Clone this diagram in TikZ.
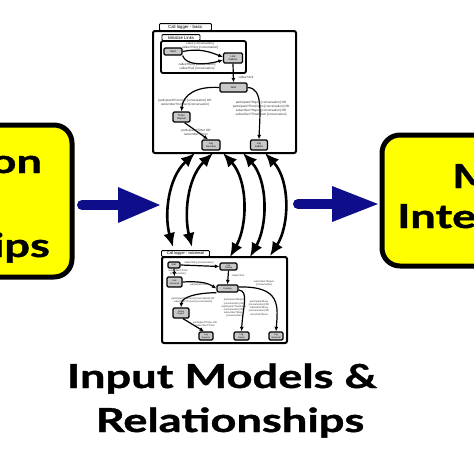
\documentclass[tikz,border=0pt]{standalone}
\usepackage{fontspec}
\setmainfont{Liberation Sans}
\newfontfamily\bigfont[FakeStretch=1.37, BoldFeatures={FakeBold=1.3}]{Lato}
\usepackage{xcolor}
\usetikzlibrary{arrows.meta}

\definecolor{boxyellow}{RGB}{255,255,0}
\definecolor{arrowblue}{RGB}{14,14,138}
\definecolor{stategray}{RGB}{200,200,200}

\tikzset{
    bigbox/.style={draw=black, line width=5pt, fill=boxyellow, rounded corners=18pt},
    bigtext/.style={font=\bigfont\bfseries\fontsize{33}{40}\selectfont, inner sep=0pt},
    flowline/.style={draw=arrowblue, line width=10pt, line cap=round},
    linkarrow/.style={line width=2.6pt, {Latex[length=14pt,width=12pt]}-{Latex[length=14pt,width=12pt]}},
    frame/.style={draw, line width=2pt, rounded corners=2pt, fill=white},
    tab/.style={draw, line width=0.9pt, rounded corners=1pt, fill=white, inner sep=0.5pt, anchor=south west},
    state/.style={draw, line width=1.3pt, fill=stategray, rounded corners=1.2pt, inner sep=0pt, align=center, font=\fontsize{2.6}{2.9}\selectfont},
    move/.style={line width=1.2pt, -{Latex[length=4.5pt,width=4pt]}},
    note/.style={align=center, inner sep=0pt, text=black!80, font=\fontsize{3.1}{4}\selectfont},
    vnote/.style={align=center, inner sep=0pt, text=black!80, font=\fontsize{2.5}{3.1}\selectfont}
}

\begin{document}
\begin{tikzpicture}[x=1pt, y=-1pt]
    \useasboundingbox (0,0) rectangle (474,474);
    \fill[white] (0,0) rectangle (474,474);
    \clip (0,0) rectangle (474,474);

    % yellow boxes on both sides
    \draw[bigbox] (-220,125) rectangle (72,277);
    \node[bigtext, anchor=base east] (leftTop) at (42,173) {Composition};
    \node[bigtext, anchor=base east] (leftBot) at (50,257) {Relationships};

    \draw[bigbox] (382,135) rectangle (720,266);
    \node[bigtext, anchor=base west] (rightTop) at (452,188) {Model};
    \node[bigtext, anchor=base west] (rightBot) at (397,228) {Integration};

    % blue arrows
    \coordinate (lStart) at (82,205);
    \coordinate (lBase) at (122,205);
    \coordinate (lTip) at (160,205);
    \draw[flowline] (lStart) -- (lBase);
    \fill[arrowblue] (118,187) -- (lTip) -- (118,223) -- cycle;

    \coordinate (rStart) at (298,204);
    \coordinate (rBase) at (336,204);
    \coordinate (rTip) at (378,204);
    \draw[flowline] (rStart) -- (rBase);
    \fill[arrowblue] (332,186) -- (rTip) -- (332,222) -- cycle;

    % call logger - basic
    \draw[frame] (153,31) rectangle (296,153);
    \node[tab, minimum width=52pt, minimum height=7pt, font=\fontsize{4.3}{5}\selectfont] (basicTab) at (159,31) {Call logger - basic};
    \draw[frame, line width=1.8pt] (161,41) rectangle (246,73);
    \node[tab, minimum width=38pt, minimum height=6pt, font=\fontsize{4.2}{5}\selectfont] (initTab) at (161.5,41) {Initialize Links};

    \node[state, minimum width=18pt, minimum height=7pt] (bStart) at (173,51.5) {Start};
    \node[state, minimum width=19pt, minimum height=10pt] (bLink) at (233,58) {Link\\Callees};
    \node[state, minimum width=27pt, minimum height=9pt] (bWait) at (233.5,87.5) {Wait};
    \node[state, minimum width=17pt, minimum height=10pt] (bTimer) at (181.5,117) {Timer\\Repeat};
    \node[state, minimum width=18pt, minimum height=10pt] (bSucc) at (211,145) {Log\\Success};
    \node[state, minimum width=17pt, minimum height=10pt] (bFail) at (259,145) {Log\\Failure};

    \draw[move] (bStart.east) .. controls (200,48) and (210,52) .. ([yshift=1pt]bLink.west);
    \draw[move] (bStart.south east) .. controls (186,66) and (206,65) .. ([yshift=-2pt]bLink.west);
    \draw[move] (bLink.south) -- (bWait.north);
    \draw[move] (bWait.west) .. controls (196,86) and (183,95) .. (bTimer.north);
    \draw[move] (bWait.east) .. controls (263,88) and (260,112) .. (bFail.north);
    \draw[move] ([xshift=3pt]bTimer.south) -- ([xshift=-3pt]bSucc.north);

    \node[note] (nRing) at (200,46) {value {[conversation]}\\callee?Ring {[conversation]}};
    \node[note] (nBusy) at (197,66.5) {callee?Busy {[conversation]}\\callee?Fail {[conversation]}};
    \node[note] (nAck) at (246,77) {callee?Ack};
    \node[note] (nConn) at (185,102.5) {participant?Connect {[conversation]} OR\\subscriber?Connect {[conversation]}};
    \node[note] (nRej) at (261,108.5) {participant?Reject {[conversation]} OR\\participant?TimeDown {[conversation]} OR\\subscriber?Reject {[conversation]} OR\\subscriber?TimeDown {[conversation]}};
    \node[note] (nTimer) at (196,132) {participant?Timer OR\\subscriber?Timer};

    % call logger - voicemail
    \draw[frame] (162,257) rectangle (287,343);
    \node[tab, minimum width=48pt, minimum height=6pt, font=\fontsize{3.8}{4.5}\selectfont] (voiceTab) at (161,257) {Call logger - voicemail};

    \node[state, minimum width=12pt, minimum height=6pt, font=\fontsize{2.2}{2.5}\selectfont] (vStart) at (174,265) {Start};
    \node[state, minimum width=17pt, minimum height=7pt, font=\fontsize{2.2}{2.5}\selectfont] (vLink) at (228.5,266.5) {Link\\Callees};
    \node[state, minimum width=15pt, minimum height=10pt, font=\fontsize{2.2}{2.5}\selectfont] (vVoice) at (174.5,282) {Link\\Voicemail};
    \node[state, minimum width=21pt, minimum height=7pt, font=\fontsize{2.2}{2.5}\selectfont] (vPend) at (227.5,288.5) {Pending};
    \node[state, minimum width=16pt, minimum height=10pt, font=\fontsize{2.2}{2.5}\selectfont] (vEmail) at (181,313) {Email\\Report};
    \node[state, minimum width=14pt, minimum height=8pt, font=\fontsize{2.2}{2.5}\selectfont] (vSucc) at (206,336) {Log\\Success};
    \node[state, minimum width=15pt, minimum height=8pt, font=\fontsize{2.2}{2.5}\selectfont] (vFail) at (241.5,336) {Log\\Failure};
    \node[state, minimum width=14pt, minimum height=8pt, font=\fontsize{2.2}{2.5}\selectfont] (vMail) at (276,336) {Log\\Voicemail};

    \draw[move] (vStart.east) -- (vLink.west);
    \draw[move] (vStart.south) -- (vVoice.north);
    \draw[move] (vLink.south) -- (vPend.north);
    \draw[move] (vVoice.east) .. controls (200,281) and (208,283) .. (vPend.west);
    \draw[move] (vPend.south west) .. controls (196,293) and (182,297) .. (vEmail.north);
    \draw[move] ([yshift=-1.5pt]vPend.east) .. controls (249,291) and (243,306) .. (vFail.north);
    \draw[move] ([yshift=1.5pt]vPend.east) .. controls (281,286) and (278,306) .. (vMail.north);
    \draw[move] ([xshift=2pt]vEmail.south) -- ([xshift=-2pt]vSucc.north);

    \node[vnote] (mRing) at (199,262.5) {callee?Ring {[conversation]}};
    \node[vnote] (mTimer) at (178,272.5) {subscriber?Timer\\{[conversation]}};
    \node[vnote] (mAck) at (238,276) {callee?Ack};
    \node[vnote] (mVack) at (199,284.5) {participant?Ack};
    \node[vnote] (mRej) at (264,283.5) {subscriber?Reject\\{[conversation]}};
    \node[vnote] (mConn) at (193,300.5) {participant?Connect {[conversation]} OR\\subscriber?Connect {[conversation]}};
    \node[vnote] (mFail) at (234,308) {participant?Reject\\{[conversation]} OR\\participant?TimeDown\\{[conversation]} OR\\subscriber?Reject\\{[conversation]}};
    \node[vnote] (mMail) at (259,308) {participant?Busy\\{[conversation]} OR\\subscriber?Busy\\{[conversation]} OR\\voicemail?Done};
    \node[vnote] (mEmail) at (205,324) {participant?Timer OR\\subscriber?Timer};

    % links between the two models
    \coordinate (up1) at (195,153);
    \coordinate (up2) at (213,153);
    \coordinate (up3) at (223,153);
    \coordinate (up4) at (243,153);
    \coordinate (up5) at (265,153);
    \coordinate (dn1) at (173,247);
    \coordinate (dn2) at (192,247);
    \coordinate (dn3) at (230,257);
    \coordinate (dn4) at (250,257);
    \coordinate (dn5) at (270,256);
    \draw[linkarrow] (up1) .. controls (168,178) and (164,215) .. (dn1);
    \draw[linkarrow] (up2) .. controls (187,178) and (184,215) .. (dn2);
    \draw[linkarrow] (up3) .. controls (248,180) and (248,225) .. (dn3);
    \draw[linkarrow] (up4) .. controls (268,180) and (268,225) .. (dn4);
    \draw[linkarrow] (up5) .. controls (290,180) and (290,225) .. (dn5);

    % caption
    \node[bigtext, anchor=base] (capTop) at (222,388) {Input Models \&};
    \node[bigtext, anchor=base] (capBot) at (230,432) {Relationships};
\end{tikzpicture}
\end{document}
